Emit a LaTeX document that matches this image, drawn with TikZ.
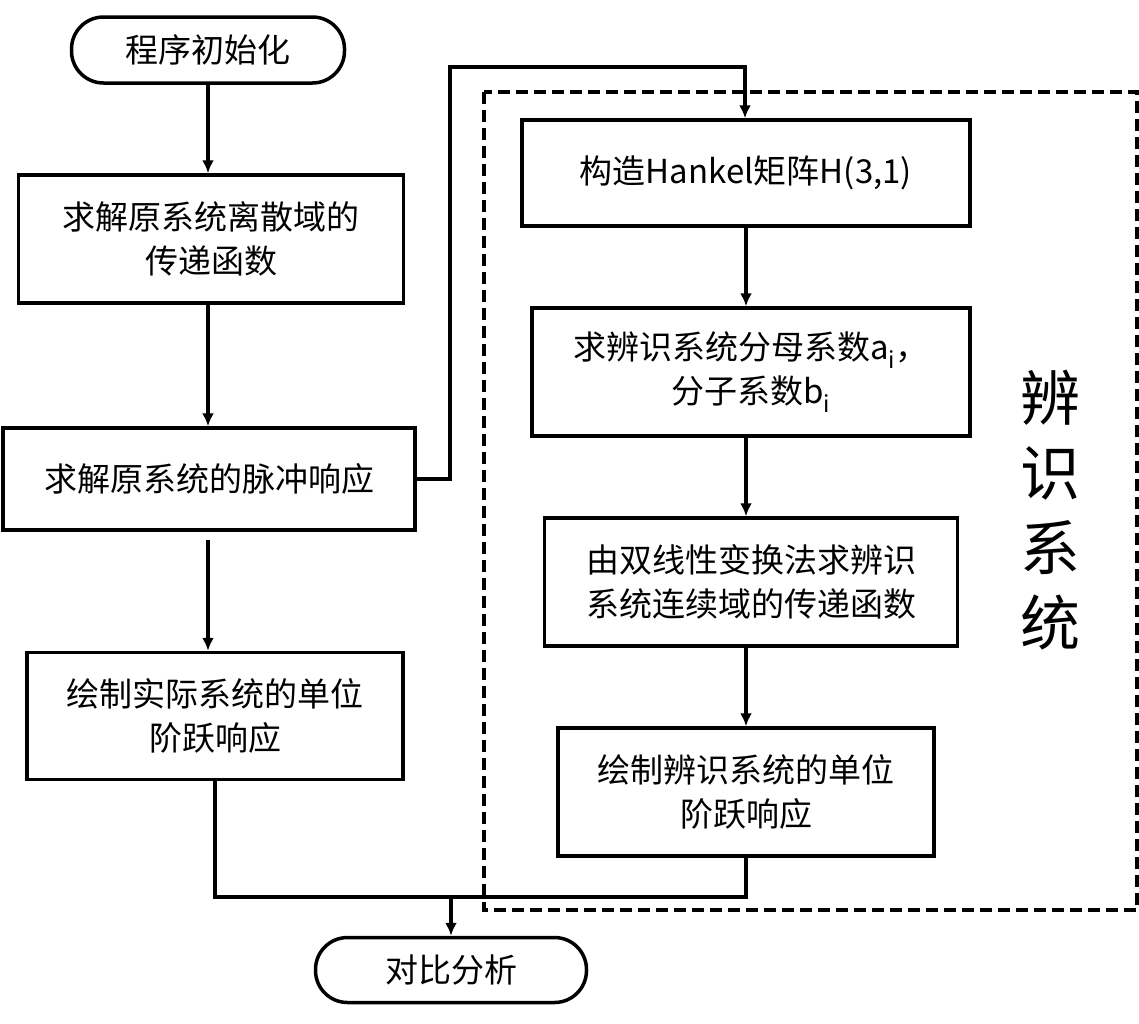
\documentclass[tikz,border=0pt]{standalone}
\usepackage{fontspec}
\usetikzlibrary{arrows.meta}
\setmainfont{Noto Sans CJK SC}
\begin{document}
\begin{tikzpicture}[x=1pt,y=-1pt,line width=3.5pt,
  box/.style={draw,line width=3.5pt,rectangle,inner sep=0pt,align=center,font=\fontsize{33}{44}\selectfont},
  term/.style={draw,line width=3.5pt,rectangle,rounded corners=32pt,inner sep=0pt,font=\fontsize{33}{44}\selectfont},
  arr/.style={-{Latex[length=13pt,width=12pt]}}]
\useasboundingbox (0,0) rectangle (1139,1023);
\node[term,minimum width=273pt,minimum height=66pt] (s) at (208,50) {程序初始化};
\node[box,minimum width=385pt,minimum height=128pt] (b1) at (211,239) {求解原系统离散域的\\传递函数};
\node[box,minimum width=412pt,minimum height=102pt] (b2) at (209,479) {求解原系统的脉冲响应};
\node[box,minimum width=376pt,minimum height=127pt] (b3) at (215,716) {绘制实际系统的单位\\阶跃响应};
\node[term,minimum width=271pt,minimum height=65pt] (e) at (451,970) {对比分析};
\draw[line width=3.5pt,dash pattern=on 12pt off 6pt] (484,92) rectangle (1137,910);
\node[box,minimum width=448pt,minimum height=106pt] (A) at (746,173) {构造Hankel矩阵H(3,1)};
\node[box,minimum width=438pt,minimum height=128pt] (B) at (751,372) {求辨识系统分母系数a\textsubscript{i}，\\分子系数b\textsubscript{i}};
\node[box,minimum width=413pt,minimum height=128pt] (C) at (751,582) {由双线性变换法求辨识\\系统连续域的传递函数};
\node[box,minimum width=376pt,minimum height=128pt] (D) at (746,792) {绘制辨识系统的单位\\阶跃响应};
\node[align=center,font=\fontsize{60}{75}\selectfont] (lab) at (1050,510) {辨\\识\\系\\统};
\coordinate (g) at (208,540);
\coordinate (j) at (451,897);
\draw[arr] (s.south -| 208,0) -- (b1.north -| 208,0);
\draw[arr] (b1.south -| 208,0) -- (b2.north -| 208,0);
\draw[arr] (g) -- (b3.north -| g);
\draw[arr] (b2.east) -- (450,479) -- (450,67) -- (745,67) -- (A.north -| 745,0);
\draw[arr] (A.south -| 746,0) -- (B.north -| 746,0);
\draw[arr] (B.south -| 746,0) -- (C.north -| 746,0);
\draw[arr] (C.south -| 746,0) -- (D.north -| 746,0);
\draw (b3.south) -- (215,897) -- (j);
\draw (D.south) -- (746,897) -- (j);
\draw[arr] (j) -- (e.north);
\end{tikzpicture}
\end{document}
